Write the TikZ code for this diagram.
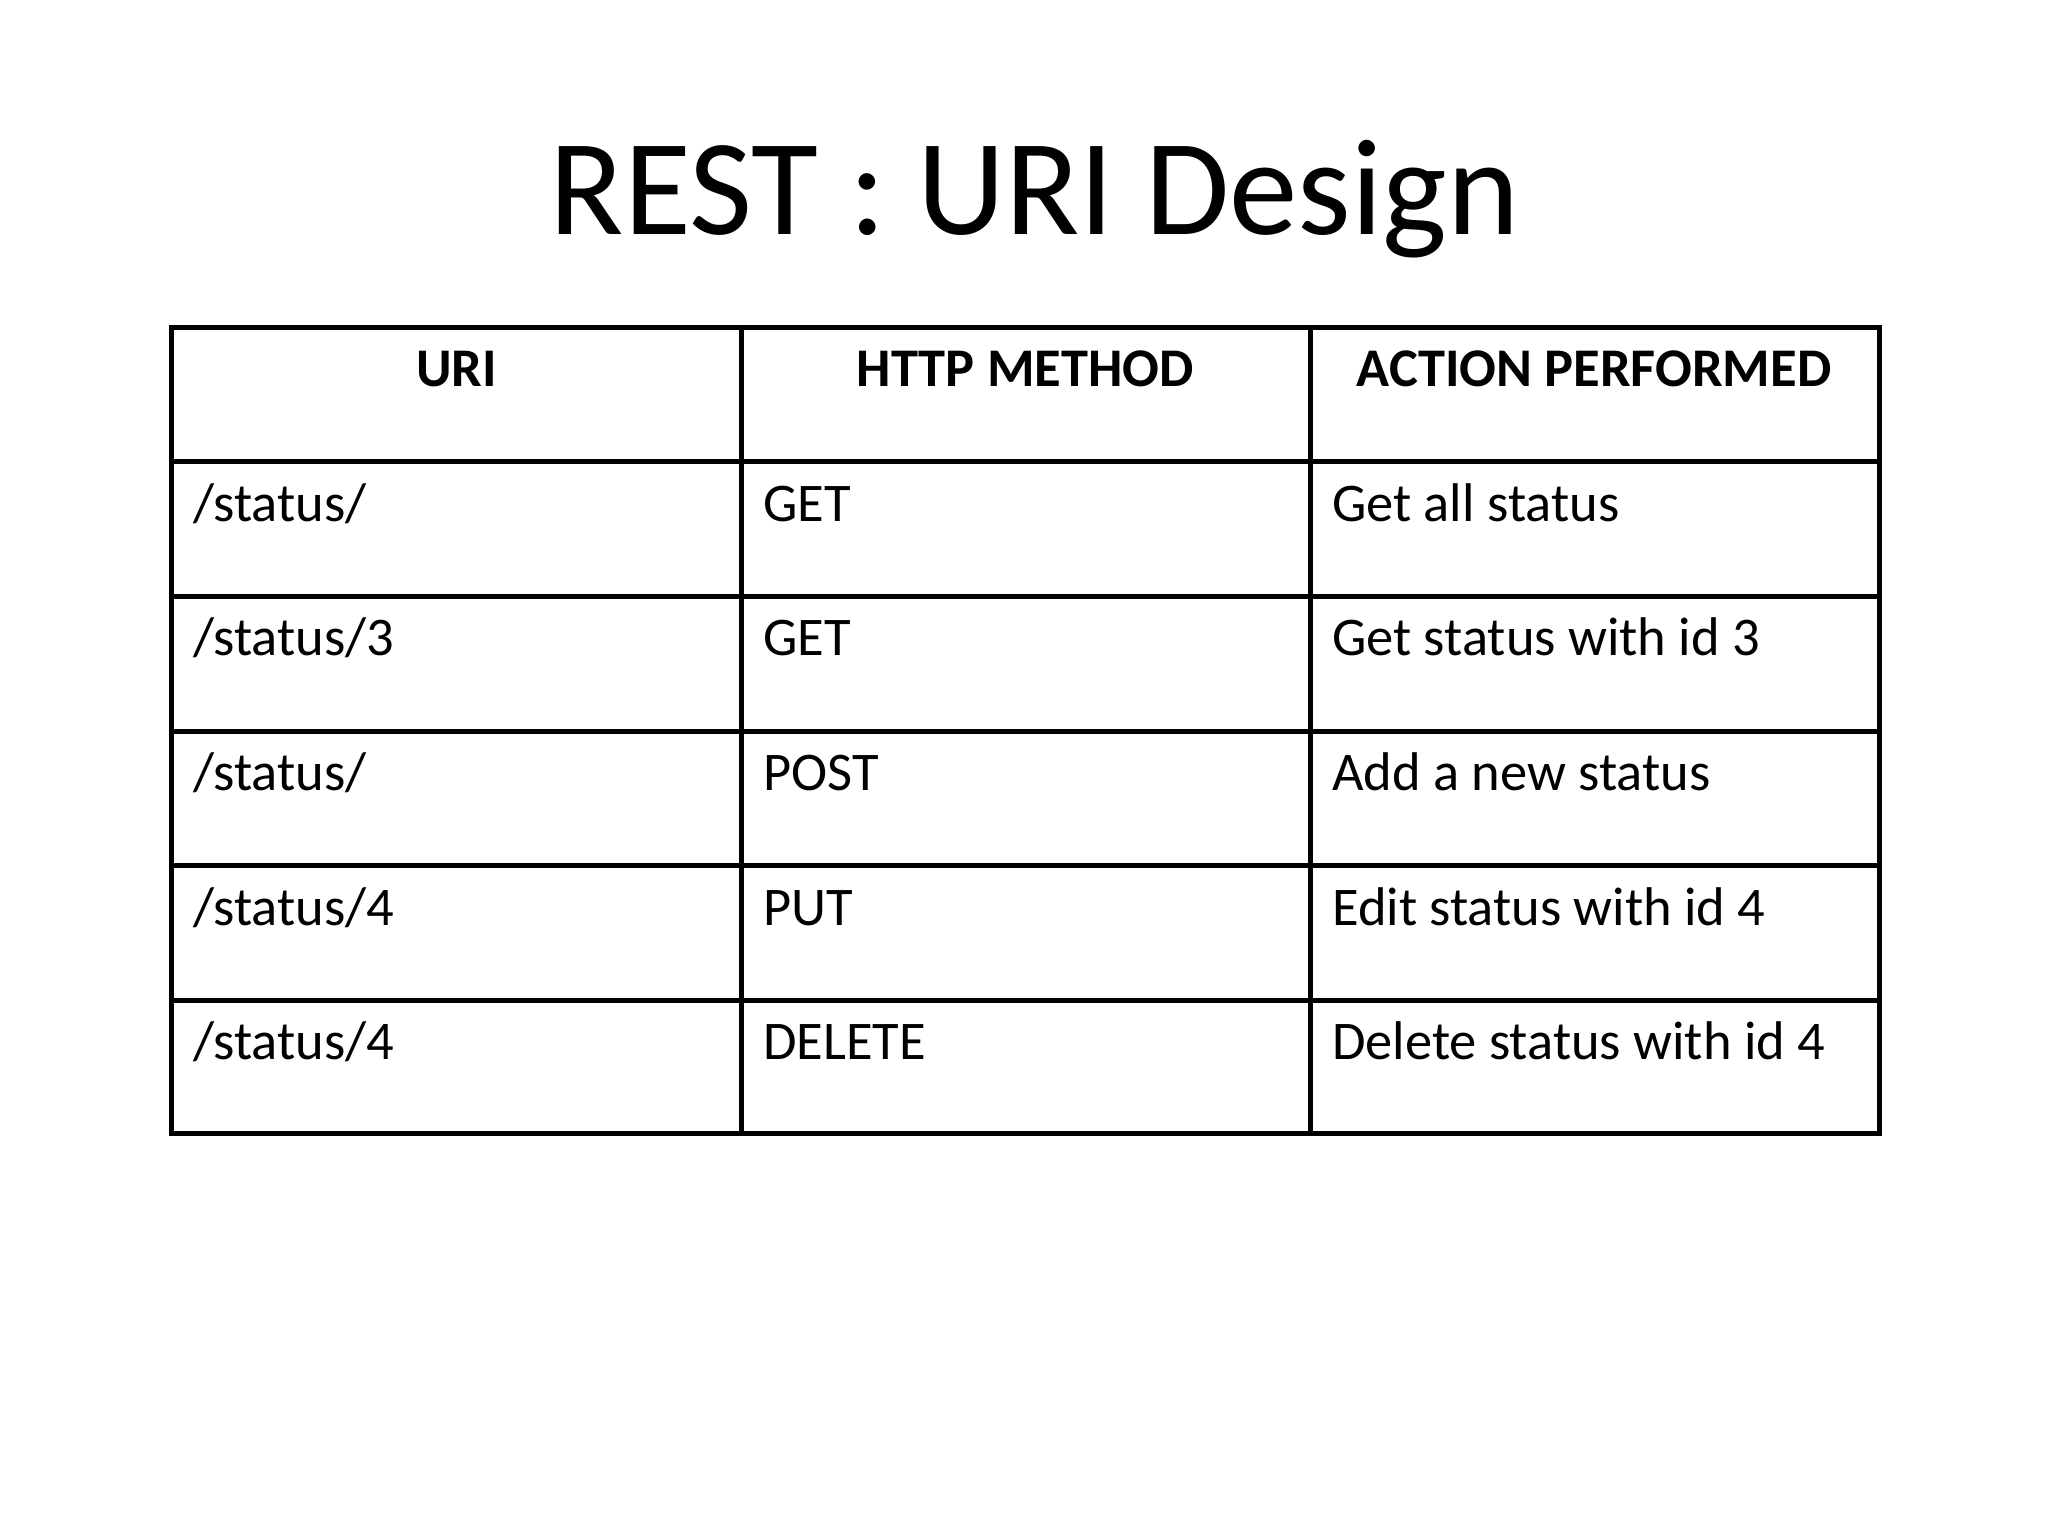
\documentclass[tikz,border=0pt]{standalone}
\usepackage{fontspec}
\setmainfont{Carlito}
\begin{document}
\begin{tikzpicture}[x=0.0132cm,y=-0.0132cm,
  cell/.style={anchor=base west,inner sep=0pt,font=\fontsize{15.5}{18}\selectfont},
  head/.style={anchor=base,inner sep=0pt,font=\fontsize{15.5}{18}\selectfont\bfseries},
  grid/.style={line width=1.4pt}]
\useasboundingbox (0,0) rectangle (1552,1164);
\node[anchor=base,inner sep=0pt,font=\fontsize{39}{44}\selectfont] (title) at (784,178) {REST : URI Design};
\draw[grid] (130,248) rectangle (1424,859);
\foreach \y in {350,452,554,656,758} \draw[grid] (130,\y) -- (1424,\y);
\draw[grid] (562,248) -- (562,859);
\draw[grid] (993,248) -- (993,859);
\node[head] (h1) at (346,293) {URI};
\node[head] (h2) at (777,293) {HTTP METHOD};
\node[head] (h3) at (1208,293) {ACTION PERFORMED};
\foreach \i/\a/\b/\c in {0/{/status/}/GET/Get all status,1/{/status/3}/GET/Get status with id 3,2/{/status/}/POST/Add a new status,3/{/status/4}/PUT/Edit status with id 4,4/{/status/4}/DELETE/Delete status with id 4}{
  \node[cell] (a\i) at (146,395+102*\i) {\a};
  \node[cell] (b\i) at (578,395+102*\i) {\b};
  \node[cell] (c\i) at (1009,395+102*\i) {\c};
}
\end{tikzpicture}
\end{document}
